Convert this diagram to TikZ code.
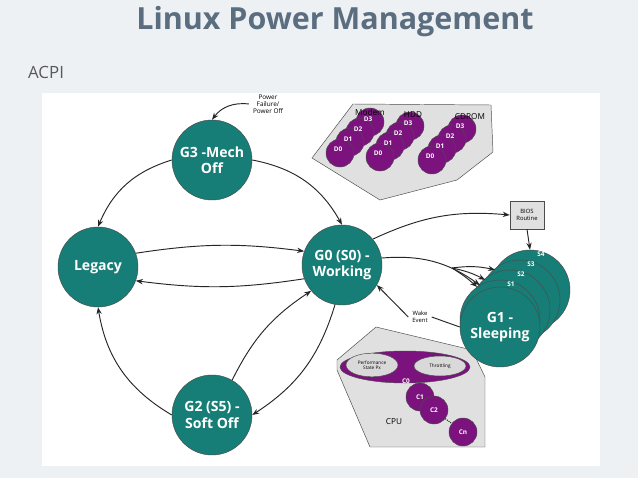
\documentclass[tikz,border=0pt]{standalone}
\usepackage{fontspec}
\setmainfont{Open Sans}
\usetikzlibrary{arrows.meta,shapes.geometric}
\definecolor{teal1}{HTML}{167E76}
\definecolor{purp}{HTML}{7B127E}
\definecolor{slide}{HTML}{EEF1F4}
\definecolor{ttl}{HTML}{5B6E80}
\begin{document}
\begin{tikzpicture}[x=0.03cm,y=-0.03cm,
        state/.style={circle,draw=black!70,fill=teal1,minimum size=80*0.03cm,inner sep=0pt,
            text=white,font=\bfseries\large,align=center},
        dev/.style={circle,draw=black!70,fill=purp,minimum size=28*0.03cm,inner sep=0pt,
            text=white,font=\bfseries\tiny},
        tag/.style={text=white,font=\bfseries\fontsize{5.5}{6}\selectfont},
        small/.style={font=\tiny,align=center},
        link/.style={-{Stealth[length=6pt]},thick,black!85},
        box/.style={draw=black!70,fill=black!12}
    ]
        % Background
        \fill[slide] (0,0) rectangle (638,478);
        \fill[white] (42,93) rectangle (600,466);
        \useasboundingbox (0,0) rectangle (638,478);
        \node[text=ttl,font=\bfseries\fontsize{26}{26}\selectfont] (title) at (335,22) {Linux Power Management};
        \node[text=black!65,anchor=west,font=\Large] (acpi) at (24,72) {ACPI};

        % Devices
        \draw[box] (312,158) -- (353,104) -- (491,105) -- (493,152) -- (457,180) -- (380,200) -- cycle;
        \foreach \x/\y/\n in {340/153/m, 380/157/h, 432/160/c} {
            \node[dev] (\n3) at (\x+30,\y-31) {};
            \node[dev] (\n2) at (\x+20,\y-21) {};
            \node[dev] (\n1) at (\x+10,\y-11) {};
            \node[dev] (\n0) at (\x,\y) {};
            \foreach \k in {0,...,3}
                \node[tag] (\n l\k) at (\x+10*\k-2,\y-10*\k-4) {D\k};
        }
        \node[small,font=\scriptsize] (modem) at (370,112) {Modem};
        \node[small,font=\scriptsize] (hdd) at (413,115) {HDD};
        \node[small,font=\scriptsize] (cdrom) at (470,117) {CDROM};

        % CPU
        \draw[box] (337,360) -- (376,327) -- (472,350) -- (485,377) -- (485,447) -- (370,447) -- (337,370) -- cycle;
        \node[ellipse,draw=black!70,fill=purp,minimum width=130*0.03cm,minimum height=32*0.03cm] (c0) at (405,367) {};
        \node[ellipse,draw=black!70,fill=black!15,minimum width=52*0.03cm,minimum height=20*0.03cm,
            small,font=\fontsize{4}{4.5}\selectfont] (perf) at (372,365) {Performance\\State Px};
        \node[ellipse,draw=black!70,fill=black!15,minimum width=52*0.03cm,minimum height=20*0.03cm,
            small,font=\fontsize{4}{4.5}\selectfont] (thr) at (440,366) {Throttling};
        \node[tag] (c0l) at (406,381) {C0};
        \node[dev,font=\bfseries\fontsize{5.5}{6}\selectfont] (c1) at (420,397) {C1};
        \node[dev,font=\bfseries\fontsize{5.5}{6}\selectfont] (c2) at (434,410) {C2};
        \node[dev,font=\bfseries\fontsize{5.5}{6}\selectfont] (cn) at (463,432) {Cn};
        \draw[densely dotted,thick] (c2) -- (cn);
        \node[font=\scriptsize] (cpu) at (394,422) {CPU};

        % States
        \node[state] (g3) at (212,160) {G3 -Mech\\Off};
        \node[state] (leg) at (98,267) {Legacy};
        \node[state] (g0) at (342,265) {G0 (S0) -\\Working};
        \node[state] (g2) at (212,415) {G2 (S5) -\\Soft Off};
        \node[state] (s4) at (530,290) {};
        \node[state] (s3) at (520,300) {};
        \node[state] (s2) at (510,310) {};
        \node[state] (s1) at (500,320) {};
        \node[state] (g1) at (500,327) {G1 -\\Sleeping};
        \foreach \n/\x/\y in {S4/541/254, S3/531/264, S2/521/274, S1/511/284}
            \node[tag] (\n l) at (\x,\y) {\n};
        \node[box,small,minimum width=34*0.03cm,minimum height=28*0.03cm] (bios) at (527,215) {BIOS\\Routine};
        \node[small,font=\fontsize{5.5}{6}\selectfont] (pf) at (268,104) {Power\\Failure/\\Power Off};
        \node[small,font=\fontsize{5}{5.5}\selectfont] (wake) at (420,317) {Wake\\Event};

        % Transitions
        \draw[link] (pf.west) to[bend right=30] (g3.north);
        \draw[link] (g3.west) to[bend right=25] (leg.north);
        \draw[link] (g3.east) to[bend left=25] (g0.north);
        \draw[link] (leg.20) to[bend left=8] (g0.160);
        \draw[link] (g0.200) to[bend left=8] (leg.340);
        \draw[link] (g2.west) to[bend left=25] (leg.south);
        \draw[link] (g2.60) to[bend left=15] (g0.220);
        \draw[link] (g0.260) to[bend left=20] (g2.east);
        \draw[link] (g0.40) to[bend left=15] (bios.west);
        \draw[link] (bios.south) -- (s4.90);
        \draw[link] (g0.10) to[bend left=20] (s1.120);
        \draw[thick,black!85] (g1.180) -- (wake.east);
        \draw[link] (wake.west) -- (g0.330);
        \coordinate (fan) at (452,268);
        \draw[link] (fan) to[bend left=10] (s4.150);
        \draw[link] (fan) to[bend left=8] (s3.150);
        \draw[link] (fan) to[bend left=5] (s2.145);
    \end{tikzpicture}
\end{document}
